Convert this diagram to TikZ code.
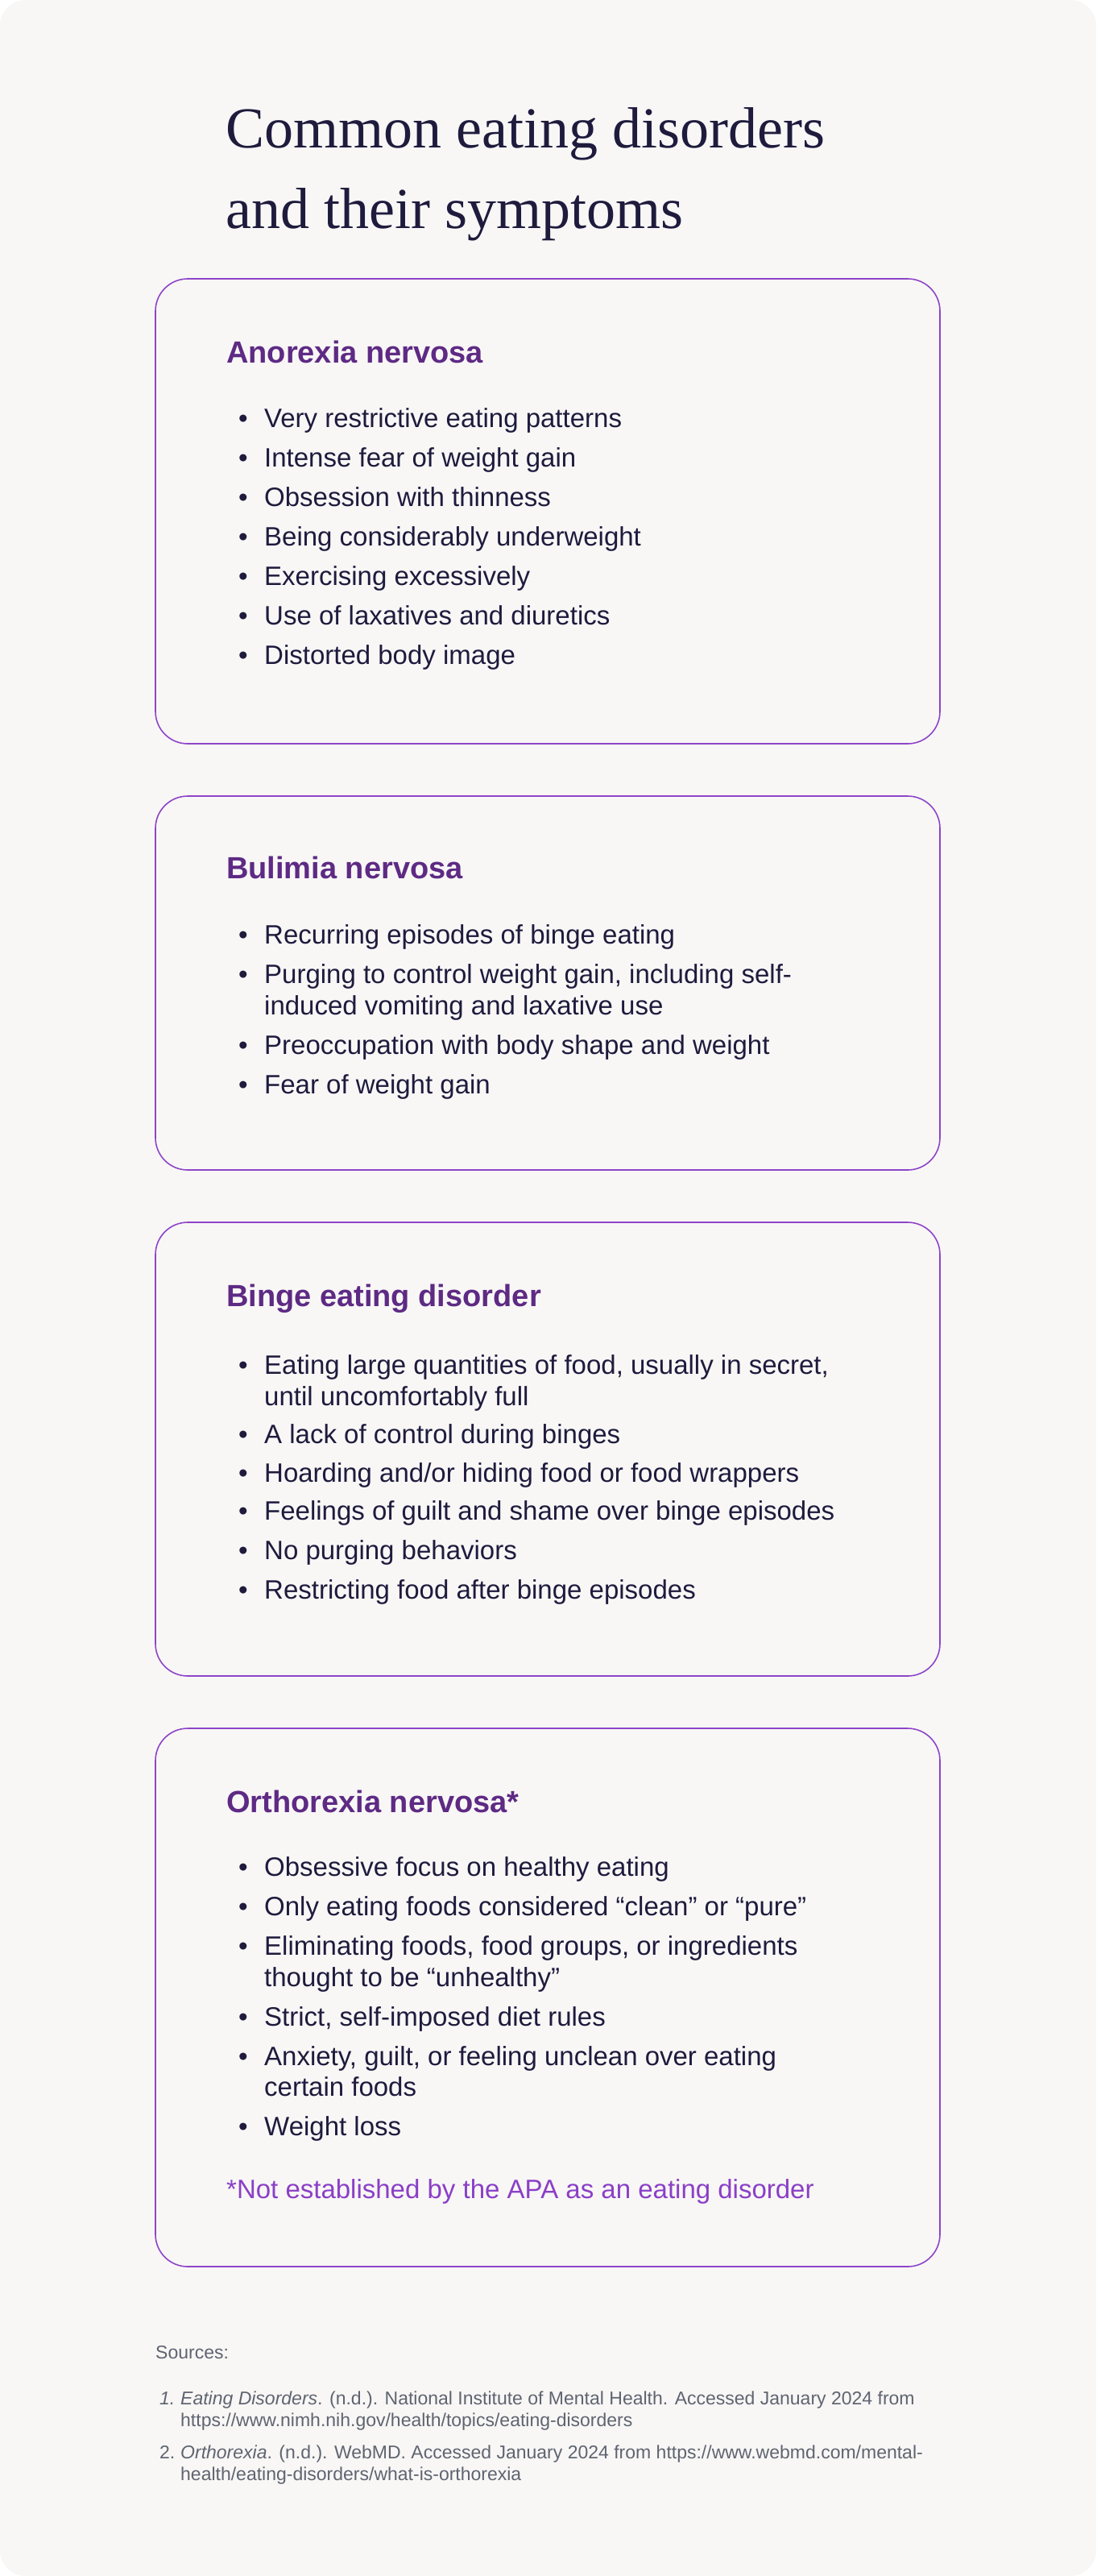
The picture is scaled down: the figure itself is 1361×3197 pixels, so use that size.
\documentclass[tikz,border=0pt]{standalone}
\usepackage{fontspec}
\setmainfont{Liberation Sans}
\newfontfamily\titlefont{Liberation Serif}
\definecolor{bg}{HTML}{F8F7F6}
\definecolor{boxc}{HTML}{8E44C8}
\definecolor{headc}{HTML}{5E2A84}
\definecolor{txtc}{HTML}{1E1B3D}
\definecolor{notec}{HTML}{8B3FC6}
\definecolor{srcc}{HTML}{5F6470}
\tikzset{
  card/.style={draw=boxc,line width=1.6pt,rounded corners=40pt,fill=bg},
  txt/.style={anchor=base west,inner sep=0pt,text=txtc,font=\fontsize{33}{39}\selectfont},
  bul/.style={anchor=base west,inner sep=0pt,text=txtc,font=\fontsize{33}{39}\selectfont},
  head/.style={anchor=base west,inner sep=0pt,text=headc,font=\fontsize{38}{44}\selectfont\bfseries},
  ttl/.style={anchor=base west,inner sep=0pt,text=txtc,font=\fontsize{72}{80}\selectfont\titlefont},
  src/.style={anchor=base west,inner sep=0pt,text=srcc,font=\fontsize{23}{27}\selectfont},
}
\newcommand\bul[3]{\node[bul] (#1b) at (296,#2) {•}; \node[txt] (#1) at (328,#2) {#3};}
\newcommand\cont[3]{\node[txt] (#1) at (328,#2) {#3};}
\begin{document}
\begin{tikzpicture}[x=1pt,y=-1pt]
\useasboundingbox (0,0) rectangle (1361,3197);
\fill[white] (0,0) rectangle (1361,3197);
\fill[bg,rounded corners=32pt] (0,0) rectangle (1361,3197);
\node[ttl] (t1) at (280,183) {Common eating disorders};
\node[ttl] (t2) at (280,283) {and their symptoms};

\draw[card] (193,346) rectangle (1167,923);
\node[head] (h1) at (281,450) {Anorexia nervosa};
\bul{a1}{530}{Very restrictive eating patterns}
\bul{a2}{579}{Intense fear of weight gain}
\bul{a3}{628}{Obsession with thinness}
\bul{a4}{677}{Being considerably underweight}
\bul{a5}{726}{Exercising excessively}
\bul{a6}{775}{Use of laxatives and diuretics}
\bul{a7}{824}{Distorted body image}

\draw[card] (193,988) rectangle (1167,1452);
\node[head] (h2) at (281,1090) {Bulimia nervosa};
\bul{b1}{1171}{Recurring episodes of binge eating}
\bul{b2}{1220}{Purging to control weight gain, including self-}
\cont{b2c}{1259}{induced vomiting and laxative use}
\bul{b3}{1308}{Preoccupation with body shape and weight}
\bul{b4}{1357}{Fear of weight gain}

\draw[card] (193,1517) rectangle (1167,2080);
\node[head] (h3) at (281,1621) {Binge eating disorder};
\bul{c1}{1705}{Eating large quantities of food, usually in secret,}
\cont{c1c}{1744}{until uncomfortably full}
\bul{c2}{1791}{A lack of control during binges}
\bul{c3}{1839}{Hoarding and/or hiding food or food wrappers}
\bul{c4}{1886}{Feelings of guilt and shame over binge episodes}
\bul{c5}{1935}{No purging behaviors}
\bul{c6}{1984}{Restricting food after binge episodes}

\draw[card] (193,2145) rectangle (1167,2813);
\node[head] (h4) at (281,2249) {Orthorexia nervosa*};
\bul{d1}{2328}{Obsessive focus on healthy eating}
\bul{d2}{2377}{Only eating foods considered “clean” or “pure”}
\bul{d3}{2426}{Eliminating foods, food groups, or ingredients}
\cont{d3c}{2465}{thought to be “unhealthy”}
\bul{d4}{2514}{Strict, self-imposed diet rules}
\bul{d5}{2563}{Anxiety, guilt, or feeling unclean over eating}
\cont{d5c}{2601}{certain foods}
\bul{d6}{2650}{Weight loss}
\node[txt,text=notec] (note) at (281,2728) {*Not established by the APA as an eating disorder};

\node[src] (s0) at (193,2927) {Sources:};
\node[src] (s1n) at (198,2984) {\itshape 1.};
\node[src] (s1) at (224,2984) {\textit{Eating Disorders}. (n.d.). National Institute of Mental Health. Accessed January 2024 from};
\node[src] (s1c) at (224,3011) {https://www.nimh.nih.gov/health/topics/eating-disorders};
\node[src] (s2n) at (198,3051) {2.};
\node[src] (s2) at (224,3051) {\textit{Orthorexia}. (n.d.). WebMD. Accessed January 2024 from https://www.webmd.com/mental-};
\node[src] (s2c) at (224,3078) {health/eating-disorders/what-is-orthorexia};
\end{tikzpicture}
\end{document}
